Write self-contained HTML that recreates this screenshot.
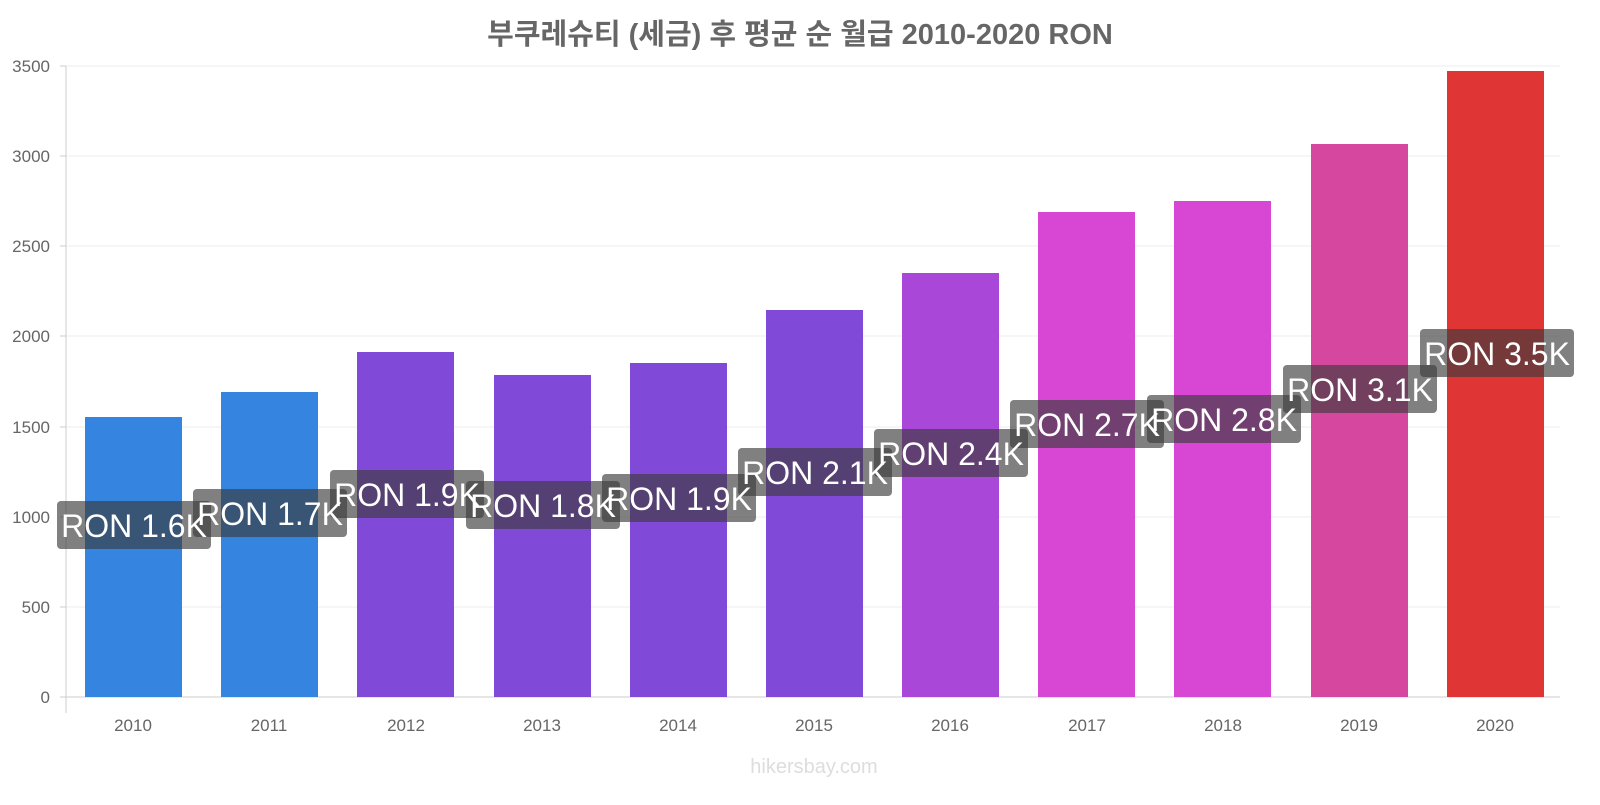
<!DOCTYPE html>
<html><head><meta charset="utf-8"><style>
body{margin:0;background:#fff;width:1600px;height:800px;overflow:hidden}
svg text{font-family:"Liberation Sans","Noto Sans CJK KR",sans-serif}
</style></head><body>
<svg width="1600" height="800" xmlns="http://www.w3.org/2000/svg">
<text x="800" y="44" text-anchor="middle" font-size="29" font-weight="bold" fill="#666">부쿠레슈티 (세금) 후 평균 순 월급 2010-2020 RON</text>
<g stroke="#eee" stroke-width="1">
<line x1="66" x2="1560" y1="66" y2="66"/><line x1="66" x2="1560" y1="156" y2="156"/>
<line x1="66" x2="1560" y1="246" y2="246"/><line x1="66" x2="1560" y1="336" y2="336"/>
<line x1="66" x2="1560" y1="427" y2="427"/><line x1="66" x2="1560" y1="517" y2="517"/>
<line x1="66" x2="1560" y1="607" y2="607"/>
</g>
<g font-size="17" fill="#666" text-anchor="end">
<text x="50" y="72">3500</text><text x="50" y="162">3000</text><text x="50" y="252">2500</text>
<text x="50" y="342">2000</text><text x="50" y="433">1500</text><text x="50" y="523">1000</text>
<text x="50" y="613">500</text><text x="50" y="703">0</text>
</g>
<g stroke="#ccc"><line x1="66" y1="66" x2="66" y2="713"/><line x1="60" y1="697" x2="1560" y2="697"/>
<line x1="60" y1="66" x2="66" y2="66"/><line x1="60" y1="156" x2="66" y2="156"/><line x1="60" y1="246" x2="66" y2="246"/><line x1="60" y1="336" x2="66" y2="336"/><line x1="60" y1="427" x2="66" y2="427"/><line x1="60" y1="517" x2="66" y2="517"/><line x1="60" y1="607" x2="66" y2="607"/></g>
<g>
<rect x="85" y="417" width="97" height="280" fill="#3584e0"/>
<rect x="221" y="392" width="97" height="305" fill="#3584e0"/>
<rect x="357" y="352" width="97" height="345" fill="#8149d8"/>
<rect x="494" y="375" width="97" height="322" fill="#8149d8"/>
<rect x="630" y="363" width="97" height="334" fill="#8149d8"/>
<rect x="766" y="310" width="97" height="387" fill="#8149d8"/>
<rect x="902" y="273" width="97" height="424" fill="#a847d8"/>
<rect x="1038" y="212" width="97" height="485" fill="#d846d4"/>
<rect x="1174" y="201" width="97" height="496" fill="#d846d4"/>
<rect x="1311" y="144" width="97" height="553" fill="#d6479f"/>
<rect x="1447" y="71" width="97" height="626" fill="#e03535"/>
</g>
<g font-size="17" fill="#666" text-anchor="middle">
<text x="133" y="731">2010</text><text x="269" y="731">2011</text><text x="406" y="731">2012</text>
<text x="542" y="731">2013</text><text x="678" y="731">2014</text><text x="814" y="731">2015</text>
<text x="950" y="731">2016</text><text x="1087" y="731">2017</text><text x="1223" y="731">2018</text>
<text x="1359" y="731">2019</text><text x="1495" y="731">2020</text>
</g>
<g fill="rgba(60,60,60,0.65)">
<rect x="57" y="501" width="154" height="48" rx="4"/>
<rect x="193" y="489" width="154" height="48" rx="4"/>
<rect x="330" y="470" width="154" height="48" rx="4"/>
<rect x="466" y="481" width="154" height="48" rx="4"/>
<rect x="602" y="474" width="154" height="48" rx="4"/>
<rect x="738" y="448" width="154" height="48" rx="4"/>
<rect x="874" y="429" width="154" height="48" rx="4"/>
<rect x="1010" y="400" width="154" height="48" rx="4"/>
<rect x="1147" y="395" width="154" height="48" rx="4"/>
<rect x="1283" y="365" width="154" height="48" rx="4"/>
<rect x="1420" y="329" width="154" height="48" rx="4"/>
</g>
<g font-size="32" fill="#fff" text-anchor="middle">
<text x="134" y="537">RON 1.6K</text><text x="270" y="525">RON 1.7K</text><text x="407" y="506">RON 1.9K</text>
<text x="543" y="517">RON 1.8K</text><text x="679" y="510">RON 1.9K</text><text x="815" y="484">RON 2.1K</text>
<text x="951" y="465">RON 2.4K</text><text x="1087" y="436">RON 2.7K</text><text x="1224" y="431">RON 2.8K</text>
<text x="1360" y="401">RON 3.1K</text><text x="1497" y="365">RON 3.5K</text>
</g>
<text x="814" y="773" text-anchor="middle" font-size="20" fill="#ddd">hikersbay.com</text>
</svg>
</body></html>
